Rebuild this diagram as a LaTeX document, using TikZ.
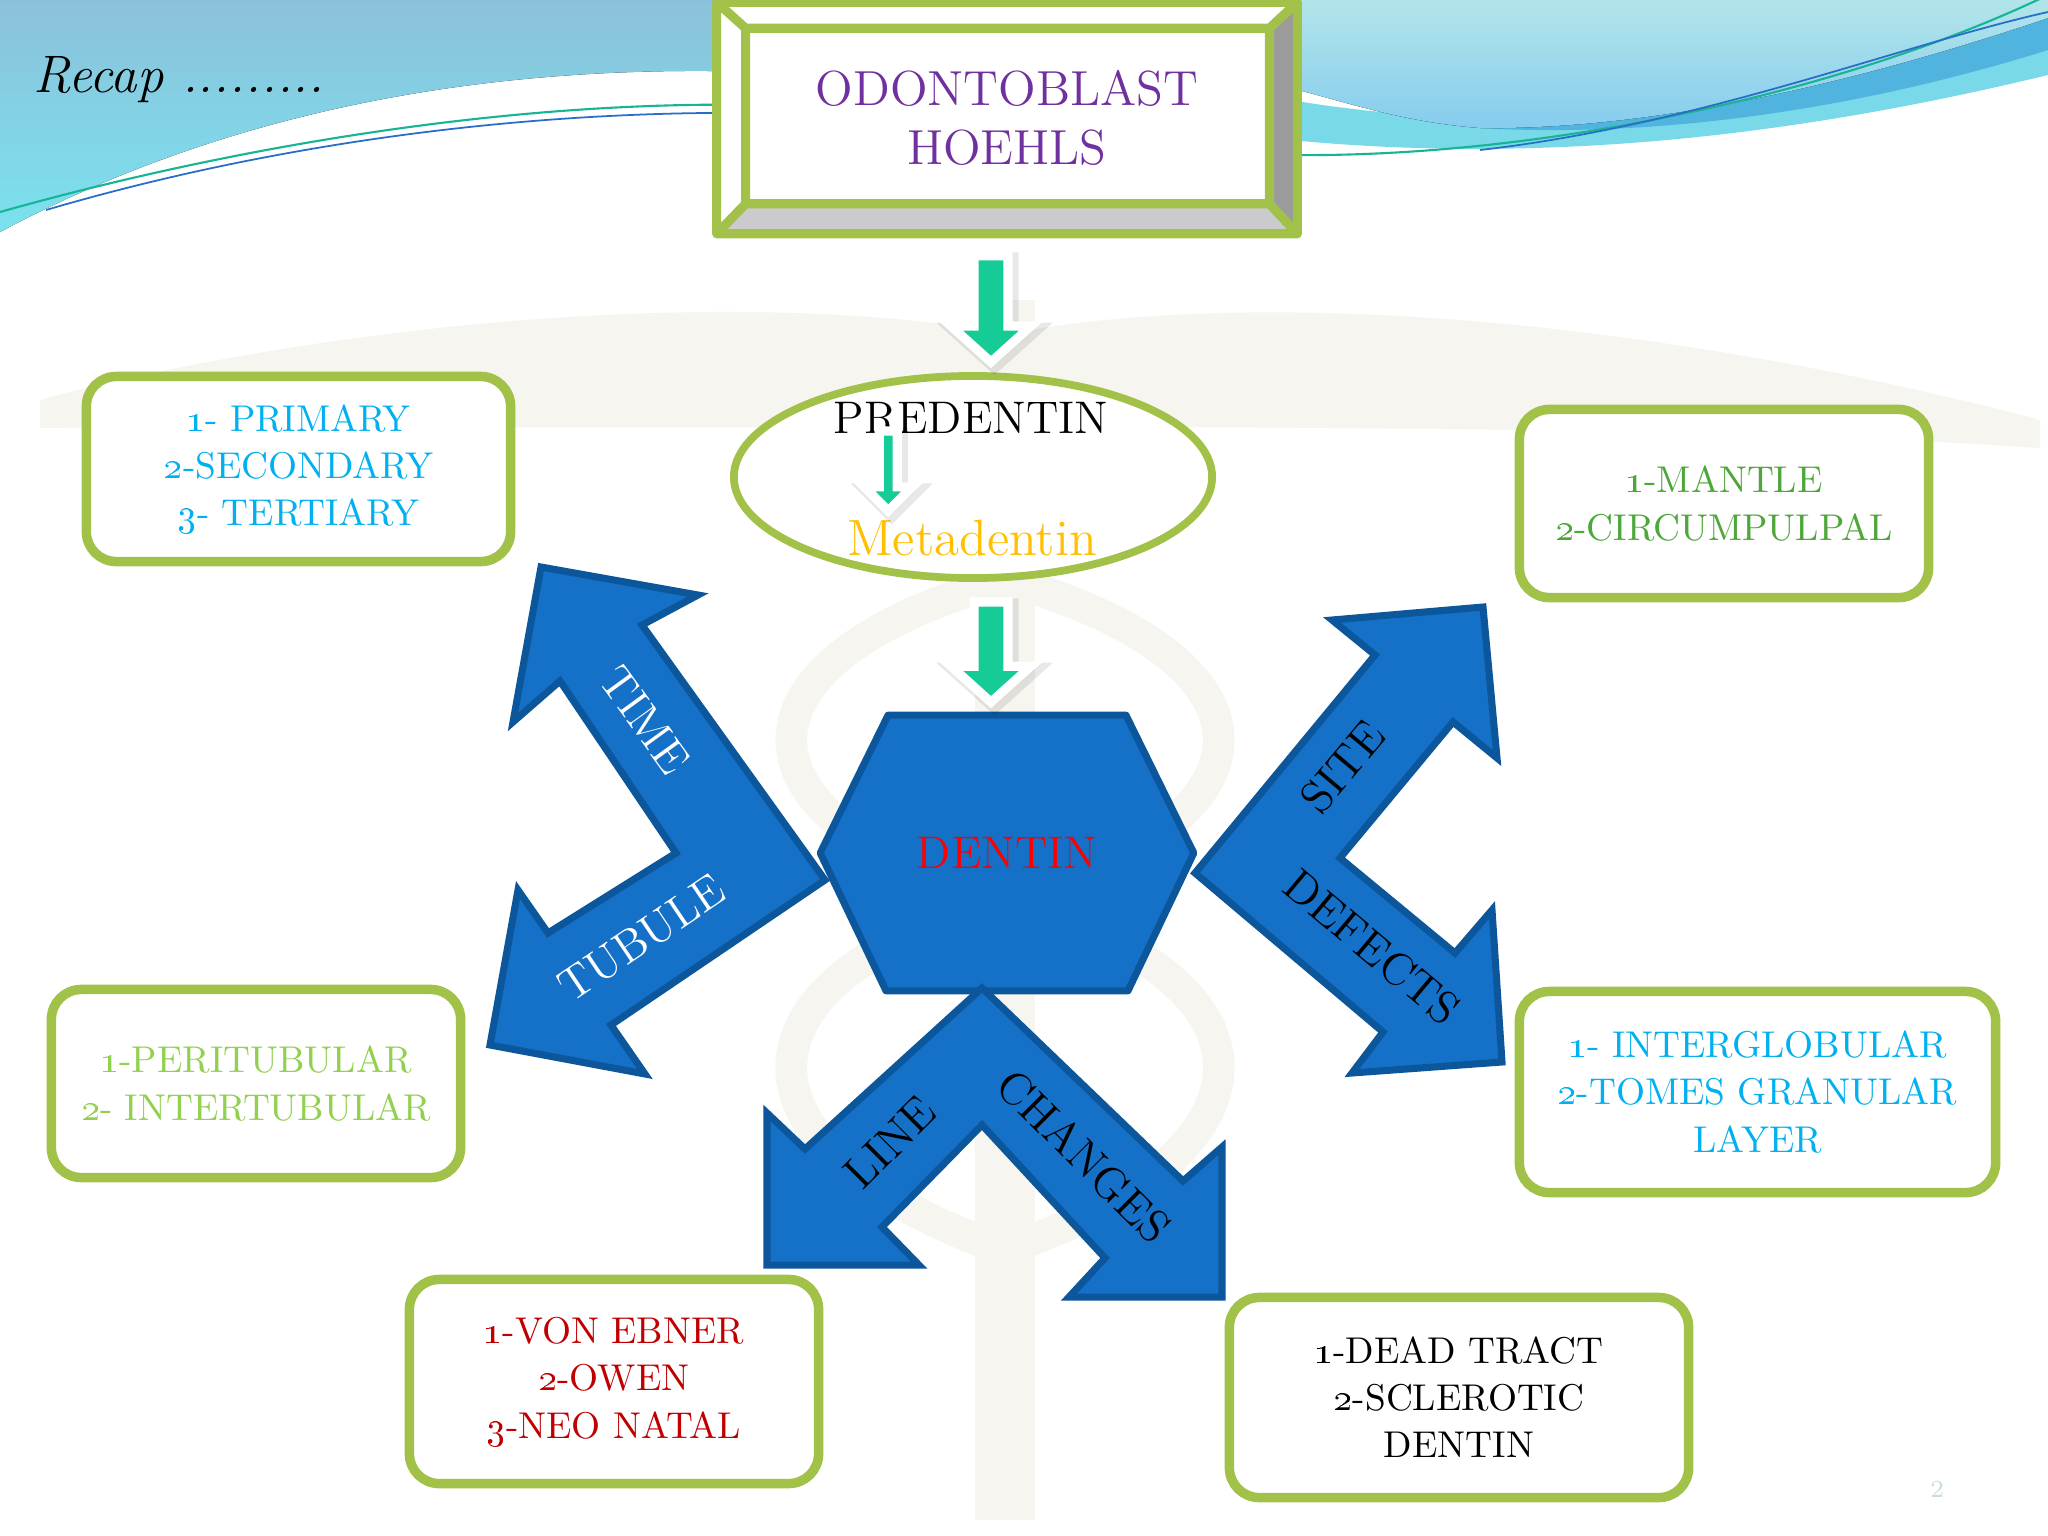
\documentclass[tikz,border=0pt]{standalone}
\usetikzlibrary{arrows.meta, positioning, shapes.geometric, calc, backgrounds}
\definecolor{framegreen}{RGB}{162,193,72}
\definecolor{arrowteal}{RGB}{22,204,150}
\definecolor{dentblue}{RGB}{21,112,200}
\definecolor{dentedge}{RGB}{12,86,156}
\definecolor{titlepurple}{RGB}{112,48,160}
\definecolor{metagold}{RGB}{255,192,0}
\definecolor{listcyan}{RGB}{0,176,240}
\definecolor{listgreen}{RGB}{78,167,58}
\definecolor{listlime}{RGB}{146,208,80}
\definecolor{listred}{RGB}{192,0,0}
\definecolor{bevelgray}{RGB}{155,155,155}
\definecolor{bevellight}{RGB}{203,203,205}
\definecolor{skytop}{RGB}{140,193,219}
\definecolor{skycyan}{RGB}{122,226,238}
\definecolor{skyhi}{RGB}{178,229,234}
\definecolor{skymid}{RGB}{134,204,238}
\definecolor{skydeep}{RGB}{80,180,222}
\definecolor{skyband}{RGB}{122,217,232}
\definecolor{swishteal}{RGB}{24,180,150}
\definecolor{swishblue}{RGB}{40,110,200}
\definecolor{pagenum}{RGB}{200,222,222}
\definecolor{wmark}{RGB}{246,245,240}
\newcommand{\headfont}{\fontsize{14}{17}\selectfont}
\newcommand{\midfont}{\fontsize{13}{16}\selectfont}
\newcommand{\listfont}{\fontsize{10.6}{13.4}\selectfont}
\newcommand{\osn}[1]{\oldstylenums{#1}}
% block arrow pointing down: shaft half, head half, head length, from, to
\newcommand{\gArrow}[5]{%
  \path[garrow] let \p1=#4, \p2=#5 in
    (\x1-#1,\y1) -- (\x1+#1,\y1) -- (\x1+#1,\y2+#3) -- (\x1+#2,\y2+#3)
    -- (\x1,\y2) -- (\x1-#2,\y2+#3) -- (\x1-#1,\y2+#3) -- cycle;}
\tikzset{
  titlebox/.style  = {fill=white, minimum width=5.79cm, minimum height=2.30cm,
                      inner sep=0pt, align=center, font=\headfont, text=titlepurple},
  frameline/.style = {draw=framegreen, line width=2.6pt, line join=round},
  listbox/.style   = {draw=framegreen, line width=2.7pt, rounded corners=8.5pt,
                      fill=white, align=center, font=\listfont, inner sep=0pt},
  stageoval/.style = {ellipse, draw=framegreen, line width=2.2pt, fill=white,
                      minimum width=4.78cm, minimum height=2.02cm},
  garrow/.style    = {fill=arrowteal, draw=white, line width=2.6pt, line join=miter,
                      preaction={draw=black, fill=black, opacity=0.09, line width=4pt,
                                 transform canvas={xshift=1pt, yshift=-1pt}}},
  barrow/.style    = {fill=dentblue, draw=dentedge, line width=2pt, line join=miter},
  hexfill/.style   = {fill=dentblue, draw=dentedge, line width=2pt, line join=round},
  armlabel/.style  = {font=\midfont, inner sep=0pt},
  wmarkline/.style = {draw=wmark, line width=9pt, line cap=round},
}

\begin{document}
\begin{tikzpicture}[x=0.01cm, y=-0.01cm]
  \useasboundingbox (0,0) rectangle (2048,1536);
  % background swooshes and faint watermark
  \begin{scope}[on background layer]
    \fill[white] (0,0) rectangle (2048,1536);
    \fill[wmark] (985,330) .. controls (700,285) and (300,330) .. (40,400)
      -- (40,428) .. controls (300,425) and (700,430) .. (985,425) -- cycle;
    \fill[wmark] (1030,330) .. controls (1300,285) and (1700,330) .. (2040,420)
      -- (2040,448) .. controls (1700,425) and (1300,430) .. (1030,425) -- cycle;
    \fill[wmark] (975,300) rectangle (1035,1520);
    \draw[wmarkline] (1005,580) .. controls (720,660) and (720,820) .. (1005,900)
      .. controls (1290,980) and (1290,1150) .. (1005,1250);
    \draw[wmarkline] (1005,580) .. controls (1290,660) and (1290,820) .. (1005,900)
      .. controls (720,980) and (720,1150) .. (1005,1250);
    \fill[top color=skytop, bottom color=skycyan]
      (0,0) -- (760,0) -- (760,72) .. controls (450,62) and (200,125) .. (0,232) -- cycle;
    \draw[swishteal, line width=0.6pt] (0,212) .. controls (220,150) and (500,100) .. (760,105);
    \draw[swishblue, line width=0.5pt] (46,210) .. controls (250,150) and (500,110) .. (760,113);
    \fill[skyband] (1290,100) .. controls (1500,135) and (1750,125) .. (2048,35)
      -- (2048,75) .. controls (1800,135) and (1550,165) .. (1290,140) -- cycle;
    \fill[skydeep] (1480,128) .. controls (1650,130) and (1850,80) .. (2048,15)
      -- (2048,50) .. controls (1850,112) and (1650,138) .. (1480,128) -- cycle;
    \fill[top color=skyhi, bottom color=skymid]
      (1290,0) -- (2048,0) -- (2048,18) .. controls (1850,85) and (1650,130) .. (1480,128)
      .. controls (1400,122) and (1340,100) .. (1290,88) -- cycle;
    \draw[swishteal, line width=0.6pt] (1290,155) .. controls (1550,158) and (1850,90) .. (2048,-5);
    \draw[swishblue, line width=0.5pt] (1480,150) .. controls (1700,125) and (1900,45) .. (2048,12);
  \end{scope}

  \node[anchor=base west, font=\fontsize{15}{18}\selectfont\itshape, inner sep=0pt]
    (recap) at (33,92) {Recap .........};

  % top bevel box
  \node[titlebox] (title) at (1007,118) {ODONTOBLAST\\HOEHLS};
  \coordinate (tnw) at ($(title.north west)+(29,26)$);
  \coordinate (tne) at ($(title.north east)+(-28,26)$);
  \coordinate (tse) at ($(title.south east)+(-28,-30)$);
  \coordinate (tsw) at ($(title.south west)+(29,-30)$);
  \fill[bevelgray] (title.north east) -- (title.south east) -- (tse) -- (tne) -- cycle;
  \fill[bevellight] (title.south west) -- (title.south east) -- (tse) -- (tsw) -- cycle;
  \draw[frameline] (title.north west) rectangle (title.south east) (tnw) rectangle (tse)
    (title.north west) -- (tnw) (title.north east) -- (tne)
    (title.south east) -- (tse) (title.south west) -- (tsw);

  % predentin oval
  \node[stageoval] (pred) at (973,477) {};
  \node[anchor=base, font=\midfont, inner sep=0pt] (predtxt) at (971,433) {PREDENTIN};
  \node[anchor=base, font=\fontsize{14.5}{17}\selectfont, inner sep=0pt, text=metagold]
    (metatxt) at (972,555) {Metadentin};

  % dentin hexagon
  \node[font=\midfont, text=red, minimum width=3.72cm, minimum height=2.74cm, inner sep=0pt]
    (dent) at (1007,853) {DENTIN};
  \begin{scope}[on background layer]
    \draw[hexfill] ($(dent.north)+(-119,0)$) -- ($(dent.north)+(119,0)$) -- (dent.east)
      -- ($(dent.south)+(121,0)$) -- ($(dent.south)+(-121,0)$) -- (dent.west) -- cycle;
  \end{scope}

  % green arrows
  \gArrow{0.17cm}{0.40cm}{0.36cm}{($(title.south)+(-16,22)$)}{($(pred.north)+(0,-10)$)}
  \gArrow{0.17cm}{0.40cm}{0.36cm}{($(pred.south)+(18,20)$)}{($(dent.north)+(0,-13)$)}
  \gArrow{0.09cm}{0.24cm}{0.24cm}{($(predtxt.base west)+(55,-2)$)}{($(metatxt.north)+(0,-8)$)}

  % blue double arrows
  \draw[barrow] (825,880) -- (642,625) -- (698,595) -- (541,567) -- (513,722) -- (560,681)
    -- (676,853) -- (548,933) -- (518,890) -- (490,1045) -- (645,1074) -- (611,1025) -- cycle;
  \draw[barrow] (1195,873) -- (1375,655) -- (1332,620) -- (1483,607) -- (1497,758) -- (1453,722)
    -- (1340,858) -- (1455,953) -- (1492,910) -- (1502,1062) -- (1352,1073) -- (1383,1032) -- cycle;
  \draw[barrow] (982,988) -- (1183,1181) -- (1222,1147) -- (1222,1297) -- (1069,1297) -- (1105,1258)
    -- (982,1125) -- (882,1227) -- (919,1265) -- (767,1265) -- (767,1113) -- (805,1149) -- cycle;
  \node[armlabel, text=white, rotate=-54] (ltime) at (645,720) {TIME};
  \node[armlabel, text=white, rotate=34] (ltubule) at (642,938) {TUBULE};
  \node[armlabel, rotate=50] (lsite) at (1343,767) {SITE};
  \node[armlabel, rotate=-40] (ldefects) at (1372,947) {DEFECTS};
  \node[armlabel, rotate=45] (lline) at (890,1142) {LINE};
  \node[armlabel, rotate=-45] (lchanges) at (1084,1156) {CHANGES};

  % list boxes
  \foreach \nm/\x/\y/\w/\h/\col/\txt in {
      prim/298.5/469/4.24/1.85/listcyan/{\osn{1}- PRIMARY\\\osn{2}-SECONDARY\\\osn{3}- TERTIARY},
      mant/1724/503.5/4.09/1.88/listgreen/{\osn{1}-MANTLE\\\osn{2}-CIRCUMPULPAL},
      peri/256/1083.5/4.09/1.88/listlime/{\osn{1}-PERITUBULAR\\\osn{2}- INTERTUBULAR},
      glob/1757.5/1092/4.76/2.01/listcyan/{\osn{1}- INTERGLOBULAR\\\osn{2}-TOMES GRANULAR\\LAYER},
      ebner/614/1381.5/4.09/2.04/listred/{\osn{1}-VON EBNER\\\osn{2}-OWEN\\\osn{3}-NEO NATAL},
      dead/1459/1397.5/4.59/2.00/black/{\osn{1}-DEAD TRACT\\\osn{2}-SCLEROTIC\\DENTIN}} {
    \node[listbox, minimum width=\w cm, minimum height=\h cm, text=\col] (\nm) at (\x,\y) {\txt};
  }

  \node[font=\fontsize{7}{8}\selectfont, text=pagenum, inner sep=0pt] (pnum) at (1937,1489) {2};
\end{tikzpicture}
\end{document}
